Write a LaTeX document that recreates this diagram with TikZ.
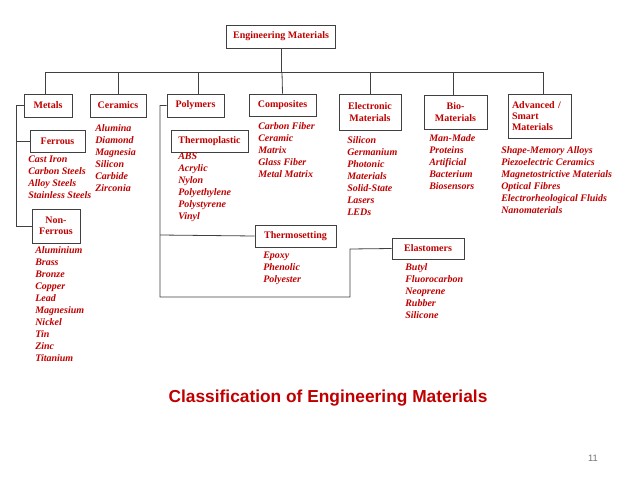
\documentclass[tikz,border=0pt]{standalone}
\usepackage{fontspec}
\setmainfont{Liberation Serif}
\newfontfamily\sansf{Liberation Sans}
\definecolor{dred}{RGB}{192,0,0}
\newdimen\px \px=0.75pt
\begin{document}
\begin{tikzpicture}[x=0.75pt,y=-0.75pt,
  bx/.style={draw=black!75,line width=0.6pt,font=\fontsize{7.5}{8.5}\selectfont\bfseries,text=dred,align=center,inner sep=0pt},
  it/.style={anchor=north west,font=\fontsize{7.5}{9}\selectfont\bfseries\itshape,text=dred,align=left,inner sep=0pt},
  ln/.style={draw=black!75,line width=0.6pt}]
\useasboundingbox (0,0) rectangle (638,478);
\fill[white] (0,0) rectangle (638,478);
\node[bx,minimum width=109\px,minimum height=23\px] (em) at (281,36.5) {Engineering Materials};
\node[bx,minimum width=48\px,minimum height=23\px] (met) at (48,105.5) {Metals};
\node[bx,minimum width=56\px,minimum height=23\px] (cer) at (118,105.5) {Ceramics};
\node[bx,minimum width=57\px,minimum height=23\px] (pol) at (195.5,105.5) {Polymers};
\node[bx,minimum width=67\px,minimum height=22\px] (com) at (282.5,105) {Composites};
\node[bx,minimum width=62\px,minimum height=36\px] (ele) at (370,112) {Electronic\\Materials};
\node[bx,minimum width=63\px,minimum height=34\px] (bio) at (455.5,112) {Bio-\\Materials};
\node[bx,minimum width=63\px,minimum height=44\px,align=left,text width=55\px] (adv) at (539.5,116) {Advanced /\\Smart\\Materials};
\node[bx,minimum width=55\px,minimum height=22\px] (fer) at (57.5,141) {Ferrous};
\node[bx,minimum width=48\px,minimum height=34\px] (nfe) at (56,226) {Non-\\Ferrous};
\node[bx,minimum width=77\px,minimum height=22\px] (thp) at (209.5,141) {Thermoplastic};
\node[bx,minimum width=81\px,minimum height=22\px] (ths) at (295.5,236) {Thermosetting};
\node[bx,minimum width=72\px,minimum height=21\px] (ela) at (428,248.5) {Elastomers};
% tree
\coordinate (ty) at (0,72);
\draw[ln] (em.south) -- (em.south |- ty);
\draw[ln] (45,72) -- (543,72);
\draw[ln] (45,72) -- (45,94);
\draw[ln] (cer.north) -- (118,72);
\draw[ln] (198,94) -- (198,72);
\draw[ln] (com.north) -- (282,72);
\draw[ln] (ele.north) -- (370,72);
\draw[ln] (453,95) -- (453,72);
\draw[ln] (543,94) -- (543,72);
\draw[ln] (met.west) -- (16,105.5) -- (16,226) -- (nfe.west);
\draw[ln] (16,141) -- (fer.west);
\draw[ln] (pol.west) -- (160,105.5) -- (160,297) -- (350,297) -- (350,249) -- (ela.west);
\draw[ln] (160,235) -- (ths.west);
% items
\node[it] (i1) at (28,156) {Cast Iron\\Carbon Steels\\Alloy Steels\\Stainless Steels};
\node[it] (i2) at (35,246) {Aluminium\\Brass\\Bronze\\Copper\\Lead\\Magnesium\\Nickel\\Tin\\Zinc\\Titanium};
\node[it] (i3) at (95,124) {Alumina\\Diamond\\Magnesia\\Silicon\\Carbide\\Zirconia};
\node[it] (i4) at (178,153) {ABS\\Acrylic\\Nylon\\Polyethylene\\Polystyrene\\Vinyl};
\node[it] (i5) at (258,122) {Carbon Fiber\\Ceramic\\Matrix\\Glass Fiber\\Metal Matrix};
\node[it] (i6) at (263,252) {Epoxy\\Phenolic\\Polyester};
\node[it] (i7) at (347,136) {Silicon\\Germanium\\Photonic\\Materials\\Solid-State\\Lasers\\LEDs};
\node[it] (i8) at (429,134) {Man-Made\\Proteins\\Artificial\\Bacterium\\Biosensors};
\node[it] (i9) at (501,146) {Shape-Memory Alloys\\Piezoelectric Ceramics\\Magnetostrictive Materials\\Optical Fibres\\Electrorheological Fluids\\Nanomaterials};
\node[it] (i10) at (405,263) {Butyl\\Fluorocarbon\\Neoprene\\Rubber\\Silicone};
\node[font=\sansf\bfseries\fontsize{13}{15}\selectfont,text=dred] (title) at (328,398) {Classification of Engineering Materials};
\node[font=\sansf\fontsize{7}{8}\selectfont,text=black!55] (pg) at (593,458) {11};
\end{tikzpicture}
\end{document}
